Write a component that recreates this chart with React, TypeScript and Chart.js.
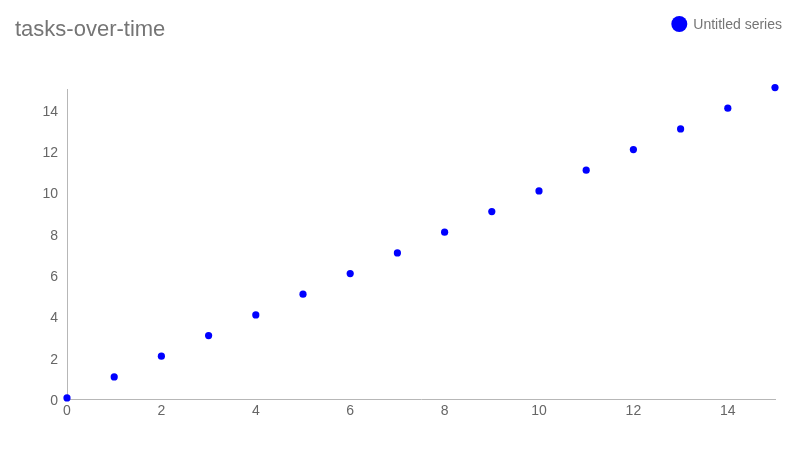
import React, { useEffect, useRef } from "react";
import { Chart, registerables } from "chart.js";

Chart.register(...registerables);

const chartTitle = "tasks-over-time";
const seriesName = "Untitled series";
const xValues = [0, 1, 2, 3, 4, 5, 6, 7, 8, 9, 10, 11, 12, 13, 14, 15];
const yValues = [0.05, 1.07, 2.07, 3.07, 4.07, 5.07, 6.07, 7.07, 8.07, 9.07, 10.07, 11.07, 12.07, 13.07, 14.07, 15.07];
const xTickStep = 2;
const yTickStep = 2;

const FONT = "'Liberation Sans', Arial, sans-serif";
const BLUE = "#0000ff";

const overlayPlugin = {
  id: "overlay",
  afterDraw(chart: any) {
    const ctx = chart.ctx;
    ctx.save();
    ctx.fillStyle = "#757575";
    ctx.font = `22px ${FONT}`;
    ctx.textBaseline = "middle";
    ctx.textAlign = "left";
    ctx.fillText(chartTitle, 15, 30);
    ctx.font = `14px ${FONT}`;
    ctx.textAlign = "right";
    ctx.fillText(seriesName, 782, 25);
    const w = ctx.measureText(seriesName).width;
    ctx.fillStyle = BLUE;
    ctx.beginPath();
    ctx.arc(782 - w - 14, 24, 8, 0, Math.PI * 2);
    ctx.fill();
    ctx.restore();
  },
};

export default function App() {
  const ref = useRef<HTMLCanvasElement>(null);
  useEffect(() => {
    const chart = new Chart(ref.current!, {
      type: "scatter",
      data: {
        datasets: [
          {
            label: seriesName,
            data: xValues.map((x, i) => ({ x, y: yValues[i] })),
            backgroundColor: BLUE,
            borderColor: BLUE,
            pointRadius: 3.6,
            pointHoverRadius: 3.6,
            borderWidth: 0,
            clip: false as any,
          },
        ],
      },
      options: {
        animation: false,
        responsive: false,
        devicePixelRatio: 1,
        layout: { padding: { top: 89, right: 25, left: 0, bottom: 0 } },
        plugins: {
          legend: { display: false },
          title: { display: false },
          tooltip: { enabled: false },
        },
        scales: {
          x: {
            type: "linear",
            min: 0,
            max: 15,
            grid: { display: false, drawTicks: false },
            border: { display: true, color: "#b7b7b7", width: 1 },
            ticks: {
              stepSize: xTickStep,
              color: "#666666",
              font: { family: FONT, size: 14 },
              padding: 4,
              maxRotation: 0,
            },
            afterBuildTicks(scale: any) {
              scale.ticks = scale.ticks.filter((t: any) => t.value % xTickStep === 0);
            },
            afterFit(scale: any) {
              scale.height = 51;
            },
          },
          y: {
            type: "linear",
            min: 0,
            max: 15,
            grid: { display: false, drawTicks: false },
            border: { display: true, color: "#b7b7b7", width: 1 },
            ticks: {
              stepSize: yTickStep,
              color: "#666666",
              font: { family: FONT, size: 14 },
              padding: 9,
              labelOffset: 2,
            },
            afterBuildTicks(scale: any) {
              scale.ticks = scale.ticks.filter((t: any) => t.value % yTickStep === 0);
            },
            afterFit(scale: any) {
              scale.width = 67;
            },
          },
        },
      },
      plugins: [overlayPlugin],
    });
    return () => chart.destroy();
  }, []);
  return (
    <div style={{ position: "absolute", left: 0, top: 0, width: 800, height: 450, background: "#fff" }}>
      <canvas ref={ref} width={800} height={450} />
    </div>
  );
}
